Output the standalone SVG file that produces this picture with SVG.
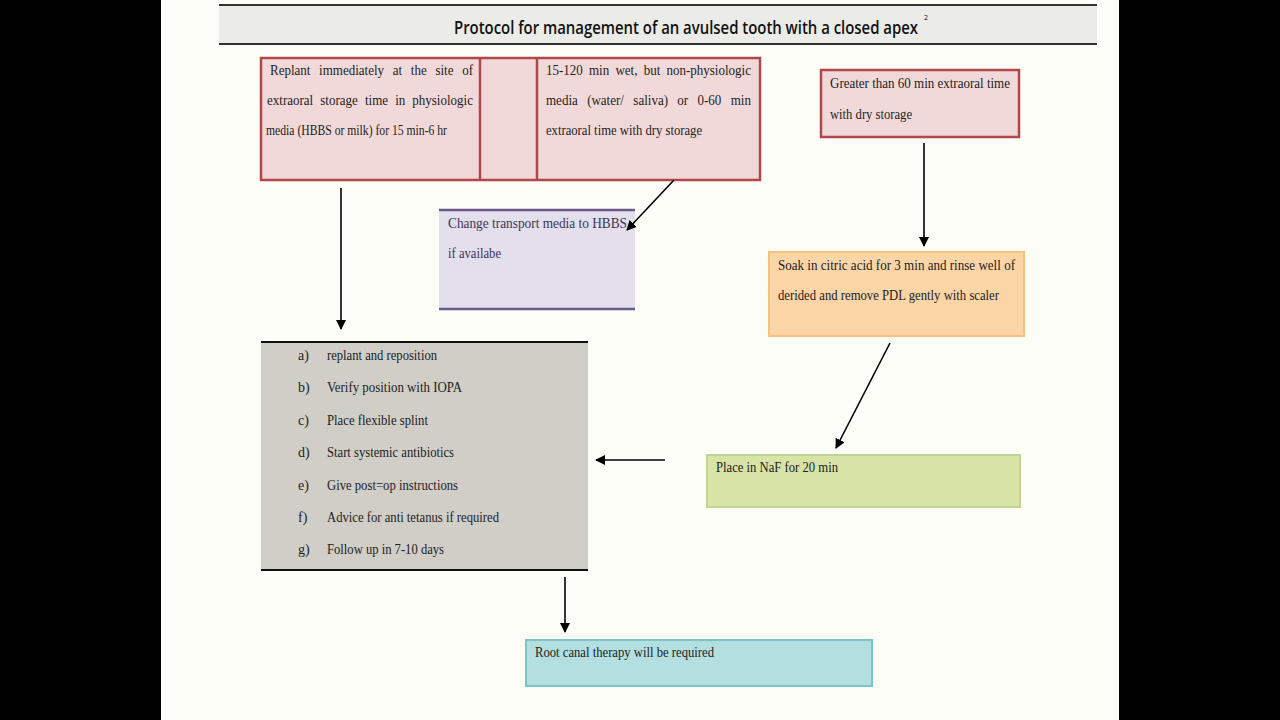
<svg xmlns="http://www.w3.org/2000/svg" width="1280" height="720" viewBox="0 0 1280 720">
<defs>
<marker id="ah" markerWidth="10" markerHeight="10" refX="9" refY="5" orient="auto" markerUnits="userSpaceOnUse">
<path d="M0,0 L10,5 L0,10 Z" fill="#000"/>
</marker>
<style>
.t{font-family:"Liberation Serif","Times New Roman",serif;font-size:14px;fill:#222}
.p{fill:#3d3456}
.c{stroke:#000;stroke-width:1.6;fill:none;marker-end:url(#ah)}
.red{fill:#f2d9d9;stroke:#b0474a;stroke-width:2.5}
</style>
</defs>
<rect width="1280" height="720" fill="#000"/>
<rect x="161" y="0" width="958" height="720" fill="#fdfdf8"/>
<g id="title">
<rect x="219" y="5" width="878" height="39" fill="#ebebe8"/>
<line x1="219" y1="5" x2="1097" y2="5" stroke="#333" stroke-width="2"/>
<line x1="219" y1="44" x2="1097" y2="44" stroke="#333" stroke-width="2"/>
<text x="454" y="34" font-family="Open Sans, sans-serif" font-weight="600" font-size="18" fill="#111" textLength="464" lengthAdjust="spacingAndGlyphs">Protocol for management of an avulsed tooth with a closed apex</text>
<text x="924" y="20" font-family="Open Sans, sans-serif" font-size="7" fill="#111">2</text>
</g>
<g id="n-top">
<rect class="red" x="261" y="58" width="499" height="122"/>
<line x1="480" y1="58" x2="480" y2="180" stroke="#b0474a" stroke-width="2.5"/>
<line x1="537" y1="58" x2="537" y2="180" stroke="#b0474a" stroke-width="2.5"/>
<text class="t" transform="scale(0.93 1)" x="290.3" y="75" word-spacing="5.86" textLength="218.3" lengthAdjust="spacing">Replant immediately at the site of</text>
<text class="t" transform="scale(0.93 1)" x="287.1" y="105" word-spacing="4.14" textLength="221.5" lengthAdjust="spacing">extraoral storage time in physiologic</text>
<text class="t" x="266" y="135" textLength="181" lengthAdjust="spacingAndGlyphs">media (HBBS or milk) for 15 min-6 hr</text>
<text class="t" transform="scale(0.93 1)" x="587.1" y="75" word-spacing="3.19" textLength="220.4" lengthAdjust="spacing">15-120 min wet, but non-physiologic</text>
<text class="t" transform="scale(0.93 1)" x="587.1" y="105" word-spacing="6.59" textLength="220.4" lengthAdjust="spacing">media (water/ saliva) or 0-60 min</text>
<text class="t" x="546" y="135" textLength="156" lengthAdjust="spacingAndGlyphs">extraoral time with dry storage</text>
</g>
<g id="n-dry">
<rect class="red" x="821" y="70" width="198" height="67"/>
<text class="t" x="830" y="88" textLength="180" lengthAdjust="spacingAndGlyphs">Greater than 60 min extraoral time</text>
<text class="t" x="830" y="119" textLength="82" lengthAdjust="spacingAndGlyphs">with dry storage</text>
</g>
<g id="n-media">
<rect x="439" y="210" width="196" height="99" fill="#e4dfec"/>
<line x1="439" y1="210" x2="635" y2="210" stroke="#6a5a8a" stroke-width="2.5"/>
<line x1="439" y1="309" x2="635" y2="309" stroke="#6a5a8a" stroke-width="2.5"/>
<text class="t p" x="448" y="228" textLength="179" lengthAdjust="spacingAndGlyphs">Change transport media to HBBS</text>
<text class="t p" x="448" y="258" textLength="53" lengthAdjust="spacingAndGlyphs">if availabe</text>
</g>
<g id="n-soak">
<rect x="769" y="252" width="255" height="84" fill="#fbd5a6" stroke="#f5c27e" stroke-width="2"/>
<text class="t" x="778" y="270" textLength="237" lengthAdjust="spacingAndGlyphs">Soak in citric acid for 3 min and rinse well of</text>
<text class="t" x="778" y="300" textLength="221" lengthAdjust="spacingAndGlyphs">derided and remove PDL gently with scaler</text>
</g>
<g id="n-steps">
<rect x="261" y="342" width="327" height="228" fill="#d0cec7"/>
<line x1="261" y1="342" x2="588" y2="342" stroke="#111" stroke-width="2"/>
<line x1="261" y1="570" x2="588" y2="570" stroke="#111" stroke-width="2"/>
<text class="t" x="298" y="360">a)</text><text class="t" x="327" y="360" textLength="110" lengthAdjust="spacingAndGlyphs">replant and reposition</text>
<text class="t" x="298" y="392">b)</text><text class="t" x="327" y="392" textLength="135" lengthAdjust="spacingAndGlyphs">Verify position with IOPA</text>
<text class="t" x="298" y="425">c)</text><text class="t" x="327" y="425" textLength="101" lengthAdjust="spacingAndGlyphs">Place flexible splint</text>
<text class="t" x="298" y="457">d)</text><text class="t" x="327" y="457" textLength="127" lengthAdjust="spacingAndGlyphs">Start systemic antibiotics</text>
<text class="t" x="298" y="490">e)</text><text class="t" x="327" y="490" textLength="131" lengthAdjust="spacingAndGlyphs">Give post=op instructions</text>
<text class="t" x="298" y="522">f)</text><text class="t" x="327" y="522" textLength="172" lengthAdjust="spacingAndGlyphs">Advice for anti tetanus if required</text>
<text class="t" x="298" y="554">g)</text><text class="t" x="327" y="554" textLength="117" lengthAdjust="spacingAndGlyphs">Follow up in 7-10 days</text>
</g>
<g id="n-naf">
<rect x="707" y="455" width="313" height="52" fill="#d7e4a6" stroke="#c3d595" stroke-width="2"/>
<text class="t" x="716" y="472" textLength="122" lengthAdjust="spacingAndGlyphs">Place in NaF for 20 min</text>
</g>
<g id="n-rct">
<rect x="526" y="640" width="346" height="46" fill="#b3dfe0" stroke="#7cc5c6" stroke-width="2"/>
<text class="t" x="535" y="657" textLength="179" lengthAdjust="spacingAndGlyphs">Root canal therapy will be required</text>
</g>
<g id="connectors">
<line class="c" x1="341" y1="188" x2="341" y2="329"/>
<line class="c" x1="674" y1="180" x2="627" y2="230"/>
<line class="c" x1="924" y1="143" x2="924" y2="246"/>
<line class="c" x1="890" y1="343" x2="836" y2="448"/>
<line class="c" x1="665" y1="460" x2="596" y2="460"/>
<line class="c" x1="565" y1="577" x2="565" y2="632"/>
</g>
</svg>
